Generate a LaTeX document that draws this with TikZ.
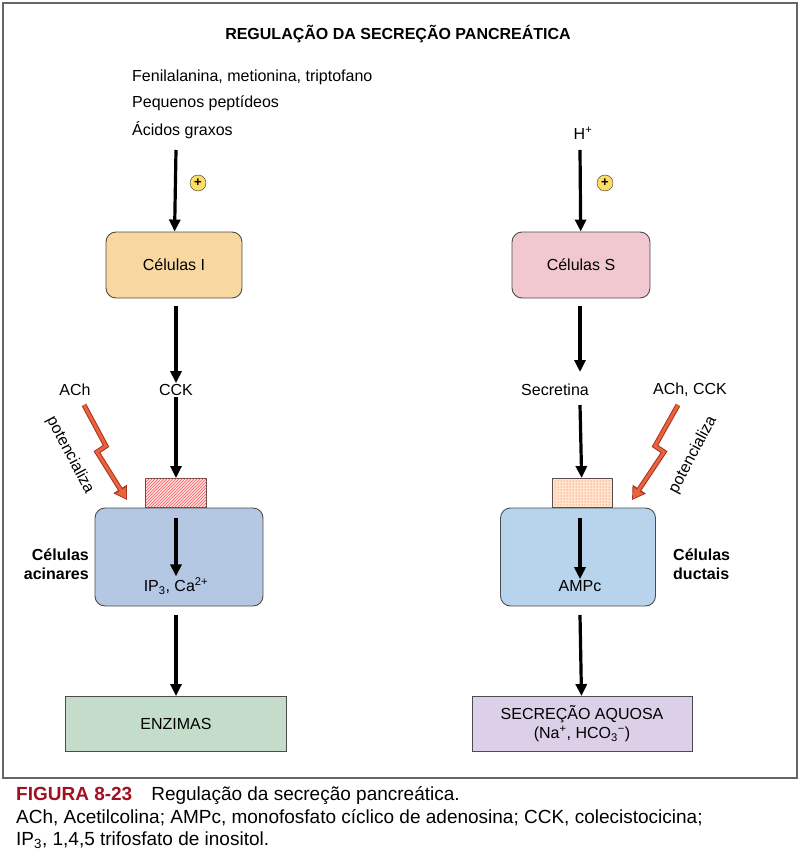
\documentclass[tikz,border=0pt]{standalone}
\usepackage{fontspec}
\setmainfont{Liberation Sans}
\usetikzlibrary{arrows.meta,patterns}
\definecolor{orf}{HTML}{F9D7A0}
\definecolor{pkf}{HTML}{F2C8D0}
\definecolor{blf}{HTML}{B4C8E4}
\definecolor{bld2}{HTML}{B8D4EC}
\definecolor{grf}{HTML}{C4DDCB}
\definecolor{lvf}{HTML}{DCD0E8}
\definecolor{bolt}{HTML}{E8643C}
\definecolor{boltd}{HTML}{A83020}
\definecolor{capred}{HTML}{A01020}
\begin{document}
\begin{tikzpicture}[x=1pt,y=-1pt,
  txt/.style={font=\fontsize{16}{19}\selectfont, inner sep=1pt},
  bld/.style={font=\fontsize{16}{19}\selectfont\bfseries, inner sep=1pt},
  box/.style={draw=black!70, rounded corners=10pt, line width=0.9pt},
  sq/.style={draw=black!70, line width=0.9pt},
  arr/.style={-{Triangle[length=12pt,width=11pt]}, line width=3.2pt},
  plus/.style={circle, draw=black!80, fill=yellow!60!orange!60, inner sep=0pt, minimum size=16pt, font=\fontsize{13}{13}\selectfont\bfseries},
  boltline/.style={line width=5pt, boltd, -{Triangle[length=13pt,width=15pt]}},
  boltin/.style={line width=3pt, bolt, -{Triangle[length=10pt,width=11pt]}, shorten >=1.5pt}
]
\useasboundingbox (0,0) rectangle (801,853);
\draw[black!60, line width=1.2pt] (3,3) rectangle (797,778);
\node[font=\fontsize{16}{18}\selectfont\bfseries] (title) at (398,34) {REGULAÇÃO DA SECREÇÃO PANCREÁTICA};
\node[txt, anchor=west] (t1) at (131,77) {Fenilalanina, metionina, triptofano};
\node[txt, anchor=west] (t2) at (131,103) {Pequenos peptídeos};
\node[txt, anchor=west] (t3) at (131,130) {Ácidos graxos};
\node[txt] (hp) at (583,133) {H\textsuperscript{+}};
% left column
\coordinate (l0) at (176,150);
\node[box, fill=orf, minimum width=136pt, minimum height=66pt, txt] (ci) at (174,265) {Células I};
\node[plus] (p1) at (198,183) {+};
\node[txt] (cck) at (176,390) {CCK};
\node[sq, fill=pink!50, minimum width=61pt, minimum height=29pt, inner sep=0pt, postaction={pattern=north east lines, pattern color=red!65}] (rl) at (176,493) {};
\node[box, fill=blf, minimum width=168pt, minimum height=98pt] (ac) at (179,557) {};
\coordinate (aci) at (176,518);
\node[txt] (ip) at (176,586) {IP\textsubscript{3}, Ca\textsuperscript{2+}};
\node[box, rounded corners=0pt, fill=grf, minimum width=221pt, minimum height=55pt, txt] (enz) at (176,724) {ENZIMAS};
\node[bld, align=right, anchor=east] (acl) at (90,564) {Células\\acinares};
\node[txt] (ach1) at (75,390) {ACh};
\draw[arr] (l0) -- (ci);
\draw[arr] (176,306) -- (cck);
\draw[arr] (cck) -- (rl);
\draw[arr] (aci) -- (ip);
\draw[arr] (176,615) -- (enz);
% bolt left
\coordinate (b1a) at (84,405);
\coordinate (b1b) at (127,500);
\draw[boltline] (b1a) -- (106,446) -- (97,452) -- (b1b);
\draw[boltin] (b1a) -- (106,446) -- (97,452) -- (b1b);
\node[txt, rotate=-62] (pot1) at (70,455) {potencializa};
% right column
\coordinate (r0) at (580,150);
\node[box, fill=pkf, minimum width=138pt, minimum height=66pt, txt] (cs) at (581,265) {Células S};
\node[plus] (p2) at (605,183) {+};
\node[txt] (sec) at (555,390) {Secretina};
\node[txt] (ach2) at (690,390) {ACh, CCK};
\node[sq, fill=orange!20, minimum width=60pt, minimum height=29pt, inner sep=0pt, postaction={pattern=dots, pattern color=red!70}] (rr) at (582,493) {};
\node[box, fill=bld2, minimum width=155pt, minimum height=98pt] (du) at (578,557) {};
\coordinate (dui) at (580,518);
\node[txt] (amp) at (580,586) {AMPc};
\node[box, rounded corners=0pt, fill=lvf, minimum width=220pt, minimum height=55pt, txt, align=center] (aq) at (582,724) {SECREÇÃO AQUOSA\\(Na\textsuperscript{+}, HCO\textsubscript{3}\textsuperscript{−})};
\node[bld, align=left, anchor=west] (dul) at (672,564) {Células\\ductais};
\draw[arr] (r0) -- (cs);
\draw[arr] (580,306) -- (580,372);
\draw[arr] (580,405) -- (rr);
\draw[arr] (dui) -- (amp);
\draw[arr] (580,615) -- (aq);
\coordinate (b2a) at (678,405);
\coordinate (b2b) at (632,500);
\draw[boltline] (b2a) -- (655,446) -- (664,452) -- (b2b);
\draw[boltin] (b2a) -- (655,446) -- (664,452) -- (b2b);
\node[txt, rotate=62] (pot2) at (693,455) {potencializa};
% caption
\node[anchor=west, inner sep=0pt, font=\fontsize{19}{22}\selectfont] (cap1) at (16,796) {\textcolor{capred}{\bfseries FIGURA 8-23}\quad Regulação da secreção pancreática.};
\node[anchor=west, inner sep=0pt, font=\fontsize{19}{22}\selectfont] (cap2) at (16,818) {ACh, Acetilcolina; AMPc, monofosfato cíclico de adenosina; CCK, colecistocicina;};
\node[anchor=west, inner sep=0pt, font=\fontsize{19}{22}\selectfont] (cap3) at (16,840) {IP\textsubscript{3}, 1,4,5 trifosfato de inositol.};
\end{tikzpicture}
\end{document}
